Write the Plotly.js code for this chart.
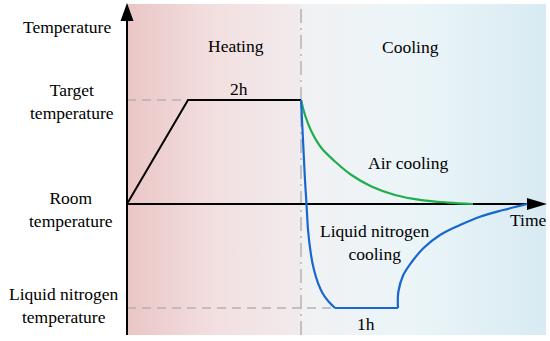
<!DOCTYPE html>
<html>
<head>
<meta charset="utf-8">
<script src="https://cdn.plot.ly/plotly-3.0.1.min.js"></script>
<style>
html,body{margin:0;padding:0;background:#fff;}
#chart{width:550px;height:341px;}
</style>
</head>
<body>
<div id="chart"></div>
<script>
// ---- data (time in hours-like schematic units, temperature levels: LN=-1, room=0, target=1) ----
const heatTime = [0, 1.08, 3.08];
const heatTemp = [0, 1, 1];
const airTime = [3.080, 3.150, 3.265, 3.442, 3.681, 3.973, 4.327, 4.743, 5.212, 5.681, 6.124];
const airTemp = [1, 0.856, 0.697, 0.538, 0.409, 0.279, 0.168, 0.087, 0.038, 0.014, 0];
const lnTime = [3.080, 3.115, 3.150, 3.177, 3.204, 3.257, 3.310, 3.381, 3.469, 3.575, 3.681,
                4.796, 4.802, 4.890, 5.039, 5.244, 5.540, 5.894, 6.248, 6.660, 7.080];
const lnTemp = [1, 0.615, 0.231, 0, -0.25, -0.49, -0.635, -0.76, -0.865, -0.942, -1,
                -1, -0.846, -0.683, -0.558, -0.426, -0.298, -0.202, -0.122, -0.058, 0];
const levelValues = [1, 0, -1];
const levelLabels = ['Target<br>temperature', 'Room<br>temperature', 'Liquid nitrogen<br>temperature'];
const phaseLabels = ['Heating', 'Cooling'];
const curveLabels = ['Air cooling', 'Liquid nitrogen<br>cooling'];
const durationLabels = ['2h', '1h'];
const axisLabels = ['Temperature', 'Time'];

// ---- layout geometry ----
const W = 550, H = 341;
const PX_T = 56.5, PX_Y = 104, X0 = 127, Y0 = 204;
const xRange = [-X0 / PX_T, (W - X0) / PX_T];
const yRange = [(Y0 - H) / PX_Y, Y0 / PX_Y];
const bgTop = (Y0 - 4) / PX_Y, bgBot = (Y0 - 335) / PX_Y, bgRight = (546 - X0) / PX_T;
const tSwitch = heatTime[heatTime.length - 1];
const yTip = (Y0 - 3) / PX_Y, xTip = (547 - X0) / PX_T;
const xArrLen = 20 / PX_T, xArrHw = 6 / PX_Y, yArrLen = 18 / PX_Y, yArrHw = 6.5 / PX_T;
const px = (x, y) => ({x: x / W, y: 1 - y / H});

const grey = '#b3b3b3';
const bottomIdx = lnTemp.indexOf(-1), riseIdx = lnTemp.lastIndexOf(-1);

const traces = [];
// backgrounds
traces.push({x: [0, tSwitch, tSwitch, 0, 0], y: [bgBot, bgBot, bgTop, bgTop, bgBot], mode: 'none', fill: 'toself',
  fillgradient: {type: 'horizontal', colorscale: [[0, '#eac6c6'], [0.5, '#f3dfe0'], [1, '#f1ebed']]}});
traces.push({x: [tSwitch, bgRight, bgRight, tSwitch, tSwitch], y: [bgBot, bgBot, bgTop, bgTop, bgBot], mode: 'none', fill: 'toself',
  fillgradient: {type: 'horizontal', colorscale: [[0, '#f1f1f3'], [0.45, '#ebf5f8'], [1, '#d8ebf2']]}});
// guide lines
traces.push({x: [0, heatTime[1]], y: [levelValues[0], levelValues[0]], mode: 'lines', line: {color: grey, width: 1.5, dash: '9px,6px'}});
traces.push({x: [0, lnTime[bottomIdx]], y: [levelValues[2], levelValues[2]], mode: 'lines', line: {color: grey, width: 1.5, dash: '9px,6px'}});
traces.push({x: [tSwitch, tSwitch], y: [bgBot, bgTop], mode: 'lines', line: {color: grey, width: 1.5, dash: '14px,5px,2px,5px'}});
// axes
traces.push({x: [0, 0], y: [bgBot, yTip - yArrLen], mode: 'lines', line: {color: '#000', width: 2}});
traces.push({x: [0, xTip - xArrLen], y: [0, 0], mode: 'lines', line: {color: '#000', width: 2}});
traces.push({x: [-yArrHw, yArrHw, 0, -yArrHw], y: [yTip - yArrLen, yTip - yArrLen, yTip, yTip - yArrLen], mode: 'none', fill: 'toself', fillcolor: '#000'});
traces.push({x: [xTip - xArrLen, xTip - xArrLen, xTip, xTip - xArrLen], y: [-xArrHw, xArrHw, 0, -xArrHw], mode: 'none', fill: 'toself', fillcolor: '#000'});
// curves
traces.push({x: heatTime, y: heatTemp, mode: 'lines', line: {color: '#000', width: 2}});
traces.push({x: airTime, y: airTemp, mode: 'lines', line: {color: '#1fae4a', width: 2.2, shape: 'spline', smoothing: 1}});
const blue = {color: '#1767cf', width: 2.2};
traces.push({x: lnTime.slice(0, bottomIdx + 1), y: lnTemp.slice(0, bottomIdx + 1), mode: 'lines', line: Object.assign({shape: 'spline', smoothing: 0.8}, blue)});
traces.push({x: lnTime.slice(bottomIdx, riseIdx + 1), y: lnTemp.slice(bottomIdx, riseIdx + 1), mode: 'lines', line: blue});
traces.push({x: lnTime.slice(riseIdx), y: lnTemp.slice(riseIdx), mode: 'lines', line: Object.assign({shape: 'spline', smoothing: 1}, blue)});
traces.forEach(t => { t.type = 'scatter'; t.showlegend = false; t.hoverinfo = 'skip'; });

function ann(text, x, y) {
  const p = px(x, y);
  return {text: text, x: p.x, y: p.y, xref: 'paper', yref: 'paper', showarrow: false,
    xanchor: 'center', yanchor: 'middle', align: 'center', font: {family: 'Times New Roman', size: 17.5, color: '#000'}};
}
const annotations = [
  ann(axisLabels[0], 66.5, 27),
  ann(levelLabels[0], 72, 102),
  ann(levelLabels[1], 70.5, 209),
  ann(levelLabels[2], 64, 305.5),
  ann(phaseLabels[0], 236, 46),
  ann(phaseLabels[1], 410, 47),
  ann(durationLabels[0], 239, 89),
  ann(curveLabels[0], 408, 163),
  ann(curveLabels[1], 374.5, 242),
  ann(durationLabels[1], 365.5, 324),
  ann(axisLabels[1], 528.5, 220)
];

const layout = {
  width: W, height: H, margin: {l: 0, r: 0, t: 0, b: 0},
  font: {family: 'Times New Roman'},
  xaxis: {range: xRange, visible: false},
  yaxis: {range: yRange, visible: false},
  annotations: annotations
};
Plotly.newPlot('chart', traces, layout, {staticPlot: true});
</script>
</body>
</html>
